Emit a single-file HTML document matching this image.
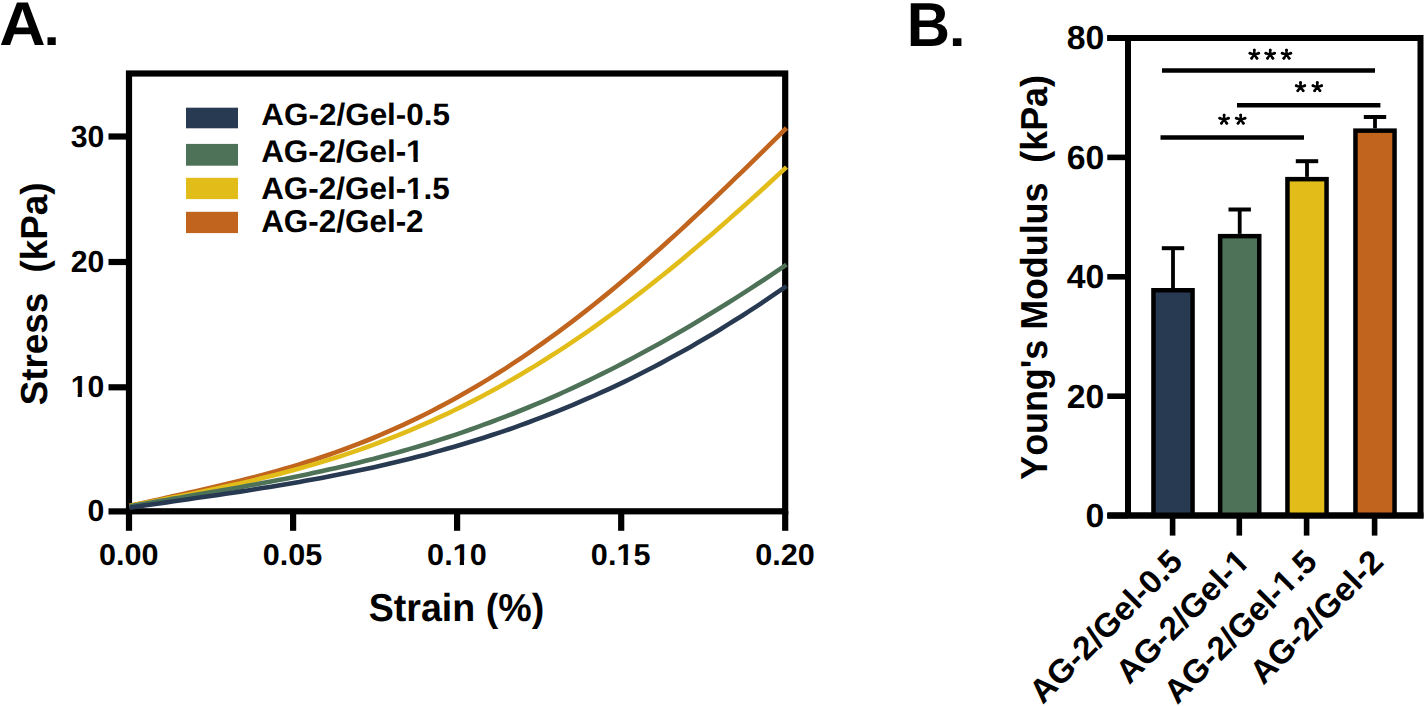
<!DOCTYPE html>
<html><head><meta charset="utf-8"><style>
html,body{margin:0;padding:0;background:#fff;width:1425px;height:706px;overflow:hidden}
svg{display:block}
text{font-family:"Liberation Sans",sans-serif;font-weight:bold;font-kerning:none;text-rendering:geometricPrecision}
</style></head><body>
<svg width="1425" height="706" viewBox="0 0 1425 706">
<text transform="translate(-0.73,45.00) scale(0.6424,0.6188)" font-size="100" xml:space="preserve">A</text>
<text transform="translate(43.60,45.00) scale(0.5857,0.5200)" font-size="100" xml:space="preserve">.</text>
<rect x="129" y="73.5" width="656.2" height="437.8" fill="none" stroke="#000" stroke-width="6.2"/>
<line x1="108.5" y1="511.4" x2="129" y2="511.4" stroke="#000" stroke-width="6.2"/>
<text transform="translate(87.60,521.45) scale(0.3020,0.3050)" font-size="100" xml:space="preserve">0</text>
<line x1="108.5" y1="387.3" x2="129" y2="387.3" stroke="#000" stroke-width="6.2"/>
<g transform="translate(70.69,397.35) scale(0.3020,0.3050)"><text font-size="100" xml:space="preserve">10</text><rect x="2.93" y="-14.16" width="20.31" height="16.60" fill="#fff"/><rect x="37.16" y="-14.16" width="18.51" height="16.60" fill="#fff"/></g>
<line x1="108.5" y1="262.0" x2="129" y2="262.0" stroke="#000" stroke-width="6.2"/>
<text transform="translate(70.69,272.05) scale(0.3020,0.3050)" font-size="100" xml:space="preserve">20</text>
<line x1="108.5" y1="136.5" x2="129" y2="136.5" stroke="#000" stroke-width="6.2"/>
<text transform="translate(70.69,146.55) scale(0.3020,0.3050)" font-size="100" xml:space="preserve">30</text>
<line x1="129.0" y1="511" x2="129.0" y2="530.8" stroke="#000" stroke-width="6.2"/>
<text transform="translate(99.02,564.51) scale(0.3060,0.3030)" font-size="100" xml:space="preserve">0.00</text>
<line x1="293.1" y1="511" x2="293.1" y2="530.8" stroke="#000" stroke-width="6.2"/>
<text transform="translate(262.76,564.51) scale(0.3060,0.3030)" font-size="100" xml:space="preserve">0.05</text>
<line x1="457.1" y1="511" x2="457.1" y2="530.8" stroke="#000" stroke-width="6.2"/>
<g transform="translate(427.12,564.51) scale(0.3060,0.3030)"><text font-size="100" xml:space="preserve">0.10</text><rect x="86.33" y="-14.16" width="20.31" height="16.60" fill="#fff"/><rect x="120.56" y="-14.16" width="18.51" height="16.60" fill="#fff"/></g>
<line x1="621.2" y1="511" x2="621.2" y2="530.8" stroke="#000" stroke-width="6.2"/>
<g transform="translate(590.86,564.51) scale(0.3060,0.3030)"><text font-size="100" xml:space="preserve">0.15</text><rect x="86.33" y="-14.16" width="20.31" height="16.60" fill="#fff"/><rect x="120.56" y="-14.16" width="18.51" height="16.60" fill="#fff"/></g>
<line x1="785.2" y1="511" x2="785.2" y2="530.8" stroke="#000" stroke-width="6.2"/>
<text transform="translate(755.22,564.51) scale(0.3060,0.3030)" font-size="100" xml:space="preserve">0.20</text>
<path d="M129.5,506.0 L136.9,504.3 L144.3,502.7 L151.6,501.0 L159.0,499.4 L166.4,497.7 L173.8,496.1 L181.2,494.5 L188.6,492.8 L195.9,491.2 L203.3,489.5 L210.7,487.8 L218.1,486.1 L225.5,484.3 L232.8,482.5 L240.2,480.7 L247.6,478.8 L255.0,476.9 L262.4,475.0 L269.8,472.9 L277.1,470.9 L284.5,468.8 L291.9,466.6 L299.3,464.4 L306.7,462.0 L314.1,459.7 L321.4,457.2 L328.8,454.7 L336.2,452.1 L343.6,449.5 L351.0,446.7 L358.3,443.9 L365.7,441.0 L373.1,438.0 L380.5,434.9 L387.9,431.7 L395.3,428.4 L402.6,425.1 L410.0,421.6 L417.4,418.1 L424.8,414.5 L432.2,410.7 L439.5,406.9 L446.9,403.0 L454.3,399.0 L461.7,394.8 L469.1,390.6 L476.5,386.3 L483.8,381.9 L491.2,377.4 L498.6,372.8 L506.0,368.1 L513.4,363.2 L520.7,358.3 L528.1,353.3 L535.5,348.2 L542.9,343.0 L550.3,337.7 L557.7,332.3 L565.0,326.9 L572.4,321.3 L579.8,315.6 L587.2,309.9 L594.6,304.0 L601.9,298.1 L609.3,292.1 L616.7,286.0 L624.1,279.8 L631.5,273.5 L638.9,267.2 L646.2,260.7 L653.6,254.2 L661.0,247.7 L668.4,241.0 L675.8,234.4 L683.2,227.6 L690.5,220.8 L697.9,213.9 L705.3,207.0 L712.7,200.0 L720.1,192.9 L727.4,185.9 L734.8,178.7 L742.2,171.6 L749.6,164.4 L757.0,157.2 L764.4,149.9 L771.7,142.6 L779.1,135.3 L786.5,128.0" fill="none" stroke="#c0641e" stroke-width="4.6" stroke-linejoin="round" stroke-linecap="butt"/>
<path d="M129.5,506.0 L136.9,504.6 L144.3,503.1 L151.6,501.7 L159.0,500.2 L166.4,498.8 L173.8,497.3 L181.2,495.9 L188.6,494.4 L195.9,492.9 L203.3,491.4 L210.7,489.8 L218.1,488.2 L225.5,486.6 L232.8,485.0 L240.2,483.4 L247.6,481.7 L255.0,479.9 L262.4,478.1 L269.8,476.3 L277.1,474.4 L284.5,472.5 L291.9,470.5 L299.3,468.5 L306.7,466.4 L314.1,464.3 L321.4,462.1 L328.8,459.8 L336.2,457.5 L343.6,455.1 L351.0,452.6 L358.3,450.1 L365.7,447.5 L373.1,444.8 L380.5,442.0 L387.9,439.2 L395.3,436.3 L402.6,433.3 L410.0,430.3 L417.4,427.1 L424.8,423.9 L432.2,420.6 L439.5,417.2 L446.9,413.8 L454.3,410.2 L461.7,406.6 L469.1,402.9 L476.5,399.1 L483.8,395.2 L491.2,391.2 L498.6,387.2 L506.0,383.0 L513.4,378.8 L520.7,374.5 L528.1,370.1 L535.5,365.6 L542.9,361.0 L550.3,356.3 L557.7,351.6 L565.0,346.8 L572.4,341.9 L579.8,336.9 L587.2,331.8 L594.6,326.6 L601.9,321.3 L609.3,316.0 L616.7,310.6 L624.1,305.1 L631.5,299.5 L638.9,293.9 L646.2,288.2 L653.6,282.4 L661.0,276.5 L668.4,270.6 L675.8,264.6 L683.2,258.5 L690.5,252.3 L697.9,246.1 L705.3,239.8 L712.7,233.5 L720.1,227.1 L727.4,220.6 L734.8,214.1 L742.2,207.5 L749.6,200.9 L757.0,194.2 L764.4,187.5 L771.7,180.8 L779.1,173.9 L786.5,167.1" fill="none" stroke="#e2bd1a" stroke-width="4.6" stroke-linejoin="round" stroke-linecap="butt"/>
<path d="M129.5,506.3 L136.9,505.0 L144.3,503.7 L151.6,502.4 L159.0,501.1 L166.4,499.9 L173.8,498.6 L181.2,497.4 L188.6,496.1 L195.9,494.8 L203.3,493.6 L210.7,492.3 L218.1,491.0 L225.5,489.8 L232.8,488.5 L240.2,487.2 L247.6,485.8 L255.0,484.5 L262.4,483.1 L269.8,481.7 L277.1,480.3 L284.5,478.9 L291.9,477.4 L299.3,475.9 L306.7,474.4 L314.1,472.8 L321.4,471.2 L328.8,469.6 L336.2,467.9 L343.6,466.2 L351.0,464.5 L358.3,462.7 L365.7,460.8 L373.1,459.0 L380.5,457.0 L387.9,455.1 L395.3,453.1 L402.6,451.0 L410.0,448.9 L417.4,446.7 L424.8,444.5 L432.2,442.2 L439.5,439.9 L446.9,437.5 L454.3,435.1 L461.7,432.6 L469.1,430.0 L476.5,427.4 L483.8,424.7 L491.2,422.0 L498.6,419.2 L506.0,416.4 L513.4,413.5 L520.7,410.5 L528.1,407.5 L535.5,404.4 L542.9,401.3 L550.3,398.1 L557.7,394.8 L565.0,391.5 L572.4,388.1 L579.8,384.6 L587.2,381.1 L594.6,377.5 L601.9,373.9 L609.3,370.2 L616.7,366.5 L624.1,362.6 L631.5,358.8 L638.9,354.8 L646.2,350.8 L653.6,346.8 L661.0,342.7 L668.4,338.5 L675.8,334.3 L683.2,330.0 L690.5,325.7 L697.9,321.3 L705.3,316.8 L712.7,312.3 L720.1,307.8 L727.4,303.2 L734.8,298.6 L742.2,293.9 L749.6,289.1 L757.0,284.3 L764.4,279.5 L771.7,274.6 L779.1,269.7 L786.5,264.7" fill="none" stroke="#4e7257" stroke-width="4.6" stroke-linejoin="round" stroke-linecap="butt"/>
<path d="M129.5,507.7 L136.9,506.6 L144.3,505.5 L151.6,504.5 L159.0,503.4 L166.4,502.4 L173.8,501.3 L181.2,500.2 L188.6,499.2 L195.9,498.1 L203.3,497.0 L210.7,496.0 L218.1,494.9 L225.5,493.8 L232.8,492.7 L240.2,491.6 L247.6,490.4 L255.0,489.3 L262.4,488.1 L269.8,486.9 L277.1,485.7 L284.5,484.5 L291.9,483.2 L299.3,482.0 L306.7,480.6 L314.1,479.3 L321.4,477.9 L328.8,476.5 L336.2,475.1 L343.6,473.6 L351.0,472.1 L358.3,470.6 L365.7,469.0 L373.1,467.4 L380.5,465.8 L387.9,464.1 L395.3,462.3 L402.6,460.5 L410.0,458.7 L417.4,456.8 L424.8,454.9 L432.2,452.9 L439.5,450.9 L446.9,448.8 L454.3,446.7 L461.7,444.5 L469.1,442.3 L476.5,440.0 L483.8,437.7 L491.2,435.3 L498.6,432.9 L506.0,430.4 L513.4,427.8 L520.7,425.2 L528.1,422.5 L535.5,419.7 L542.9,416.9 L550.3,414.0 L557.7,411.1 L565.0,408.1 L572.4,405.1 L579.8,401.9 L587.2,398.7 L594.6,395.5 L601.9,392.2 L609.3,388.8 L616.7,385.3 L624.1,381.8 L631.5,378.2 L638.9,374.5 L646.2,370.8 L653.6,367.0 L661.0,363.1 L668.4,359.1 L675.8,355.1 L683.2,351.0 L690.5,346.9 L697.9,342.6 L705.3,338.3 L712.7,333.9 L720.1,329.5 L727.4,324.9 L734.8,320.3 L742.2,315.7 L749.6,310.9 L757.0,306.1 L764.4,301.2 L771.7,296.2 L779.1,291.2 L786.5,286.1" fill="none" stroke="#283a52" stroke-width="4.6" stroke-linejoin="round" stroke-linecap="butt"/>
<text transform="translate(47.22,405.20) rotate(-90) scale(0.3674,0.3760)" font-size="100" xml:space="preserve">Stress  (kPa)</text>
<text transform="translate(368.67,621.11) scale(0.3763,0.3891)" font-size="100" xml:space="preserve">Strain (%)</text>
<rect x="186" y="107.7" width="52" height="20.6" fill="#283a52"/>
<text transform="translate(261.36,124.60) scale(0.3143,0.3096)" font-size="100" xml:space="preserve">AG-2/Gel-0.5</text>
<rect x="186" y="143.9" width="52" height="21.8" fill="#4e7257"/>
<g transform="translate(261.16,162.00) scale(0.3143,0.3125)"><text font-size="100" xml:space="preserve">AG-2/Gel-1</text><rect x="464.11" y="-14.16" width="20.31" height="16.60" fill="#fff"/><rect x="498.34" y="-14.16" width="18.51" height="16.60" fill="#fff"/></g>
<rect x="186" y="177.8" width="52" height="21.3" fill="#e2bd1a"/>
<g transform="translate(261.16,198.60) scale(0.3143,0.3110)"><text font-size="100" xml:space="preserve">AG-2/Gel-1.5</text><rect x="464.11" y="-14.16" width="20.31" height="16.60" fill="#fff"/><rect x="498.34" y="-14.16" width="18.51" height="16.60" fill="#fff"/></g>
<rect x="186" y="211.8" width="52" height="21.3" fill="#c0641e"/>
<text transform="translate(261.16,232.10) scale(0.3143,0.3140)" font-size="100" xml:space="preserve">AG-2/Gel-2</text>
<text transform="translate(906.70,45.60) scale(0.6000,0.6217)" font-size="100" xml:space="preserve">B</text>
<text transform="translate(948.75,45.60) scale(0.6071,0.5200)" font-size="100" xml:space="preserve">.</text>
<path d="M1107.3,38 H1420.5 V515.6 H1108 M1128,38 V515.6" fill="none" stroke="#000" stroke-width="6"/>
<line x1="1107.3" y1="515.6" x2="1128" y2="515.6" stroke="#000" stroke-width="5.6"/>
<text transform="translate(1085.56,526.98) scale(0.3380,0.3340)" font-size="100" xml:space="preserve">0</text>
<line x1="1107.3" y1="396.2" x2="1128" y2="396.2" stroke="#000" stroke-width="5.6"/>
<text transform="translate(1066.63,407.58) scale(0.3380,0.3340)" font-size="100" xml:space="preserve">20</text>
<line x1="1107.3" y1="276.8" x2="1128" y2="276.8" stroke="#000" stroke-width="5.6"/>
<text transform="translate(1066.63,288.18) scale(0.3380,0.3340)" font-size="100" xml:space="preserve">40</text>
<line x1="1107.3" y1="157.4" x2="1128" y2="157.4" stroke="#000" stroke-width="5.6"/>
<text transform="translate(1066.63,168.78) scale(0.3380,0.3340)" font-size="100" xml:space="preserve">60</text>
<line x1="1107.3" y1="38.0" x2="1128" y2="38.0" stroke="#000" stroke-width="5.6"/>
<text transform="translate(1066.63,49.38) scale(0.3380,0.3340)" font-size="100" xml:space="preserve">80</text>
<line x1="1173.0" y1="288" x2="1173.0" y2="248.2" stroke="#000" stroke-width="3.8"/>
<line x1="1161.8" y1="248.2" x2="1184.2" y2="248.2" stroke="#000" stroke-width="4"/>
<rect x="1153.45" y="290.25" width="39.1" height="225.35000000000002" fill="#283a52" stroke="#000" stroke-width="4.5"/>
<line x1="1172.6" y1="515.6" x2="1172.6" y2="535.6" stroke="#000" stroke-width="5.6"/>
<line x1="1239.7" y1="233.9" x2="1239.7" y2="209.5" stroke="#000" stroke-width="3.8"/>
<line x1="1228.5" y1="209.5" x2="1250.9" y2="209.5" stroke="#000" stroke-width="4"/>
<rect x="1220.15" y="236.15" width="39.1" height="279.45000000000005" fill="#4e7257" stroke="#000" stroke-width="4.5"/>
<line x1="1239.3" y1="515.6" x2="1239.3" y2="535.6" stroke="#000" stroke-width="5.6"/>
<line x1="1307.0" y1="176.9" x2="1307.0" y2="161.2" stroke="#000" stroke-width="3.8"/>
<line x1="1295.8" y1="161.2" x2="1318.2" y2="161.2" stroke="#000" stroke-width="4"/>
<rect x="1287.45" y="179.15" width="39.1" height="336.45000000000005" fill="#e2bd1a" stroke="#000" stroke-width="4.5"/>
<line x1="1306.6" y1="515.6" x2="1306.6" y2="535.6" stroke="#000" stroke-width="5.6"/>
<line x1="1375.0" y1="128.4" x2="1375.0" y2="117" stroke="#000" stroke-width="3.8"/>
<line x1="1363.8" y1="117" x2="1386.2" y2="117" stroke="#000" stroke-width="4"/>
<rect x="1355.45" y="130.65" width="39.1" height="384.95000000000005" fill="#c0641e" stroke="#000" stroke-width="4.5"/>
<line x1="1374.6" y1="515.6" x2="1374.6" y2="535.6" stroke="#000" stroke-width="5.6"/>
<line x1="1107.3" y1="515.6" x2="1423.5" y2="515.6" stroke="#000" stroke-width="6"/>
<line x1="1162" y1="70.5" x2="1375" y2="70.5" stroke="#000" stroke-width="4.5"/>
<line x1="1237" y1="105.3" x2="1380.4" y2="105.3" stroke="#000" stroke-width="4.5"/>
<line x1="1160.5" y1="137.5" x2="1304" y2="137.5" stroke="#000" stroke-width="4.5"/>
<path d="M1254.30,54.60L1254.30,50.05M1254.30,54.60L1258.63,53.19M1254.30,54.60L1256.97,58.28M1254.30,54.60L1251.63,58.28M1254.30,54.60L1249.97,53.19" stroke="#000" stroke-width="2.5" stroke-linecap="round" fill="none"/><circle cx="1254.30" cy="50.05" r="1.4"/><circle cx="1258.63" cy="53.19" r="1.4"/><circle cx="1256.97" cy="58.28" r="1.4"/><circle cx="1251.63" cy="58.28" r="1.4"/><circle cx="1249.97" cy="53.19" r="1.4"/>
<path d="M1270.20,54.60L1270.20,50.05M1270.20,54.60L1274.53,53.19M1270.20,54.60L1272.87,58.28M1270.20,54.60L1267.53,58.28M1270.20,54.60L1265.87,53.19" stroke="#000" stroke-width="2.5" stroke-linecap="round" fill="none"/><circle cx="1270.20" cy="50.05" r="1.4"/><circle cx="1274.53" cy="53.19" r="1.4"/><circle cx="1272.87" cy="58.28" r="1.4"/><circle cx="1267.53" cy="58.28" r="1.4"/><circle cx="1265.87" cy="53.19" r="1.4"/>
<path d="M1286.50,54.60L1286.50,50.05M1286.50,54.60L1290.83,53.19M1286.50,54.60L1289.17,58.28M1286.50,54.60L1283.83,58.28M1286.50,54.60L1282.17,53.19" stroke="#000" stroke-width="2.5" stroke-linecap="round" fill="none"/><circle cx="1286.50" cy="50.05" r="1.4"/><circle cx="1290.83" cy="53.19" r="1.4"/><circle cx="1289.17" cy="58.28" r="1.4"/><circle cx="1283.83" cy="58.28" r="1.4"/><circle cx="1282.17" cy="53.19" r="1.4"/>
<path d="M1300.50,87.10L1300.50,82.55M1300.50,87.10L1304.83,85.69M1300.50,87.10L1303.17,90.78M1300.50,87.10L1297.83,90.78M1300.50,87.10L1296.17,85.69" stroke="#000" stroke-width="2.5" stroke-linecap="round" fill="none"/><circle cx="1300.50" cy="82.55" r="1.4"/><circle cx="1304.83" cy="85.69" r="1.4"/><circle cx="1303.17" cy="90.78" r="1.4"/><circle cx="1297.83" cy="90.78" r="1.4"/><circle cx="1296.17" cy="85.69" r="1.4"/>
<path d="M1317.30,87.10L1317.30,82.55M1317.30,87.10L1321.63,85.69M1317.30,87.10L1319.97,90.78M1317.30,87.10L1314.63,90.78M1317.30,87.10L1312.97,85.69" stroke="#000" stroke-width="2.5" stroke-linecap="round" fill="none"/><circle cx="1317.30" cy="82.55" r="1.4"/><circle cx="1321.63" cy="85.69" r="1.4"/><circle cx="1319.97" cy="90.78" r="1.4"/><circle cx="1314.63" cy="90.78" r="1.4"/><circle cx="1312.97" cy="85.69" r="1.4"/>
<path d="M1224.10,119.60L1224.10,115.05M1224.10,119.60L1228.43,118.19M1224.10,119.60L1226.77,123.28M1224.10,119.60L1221.43,123.28M1224.10,119.60L1219.77,118.19" stroke="#000" stroke-width="2.5" stroke-linecap="round" fill="none"/><circle cx="1224.10" cy="115.05" r="1.4"/><circle cx="1228.43" cy="118.19" r="1.4"/><circle cx="1226.77" cy="123.28" r="1.4"/><circle cx="1221.43" cy="123.28" r="1.4"/><circle cx="1219.77" cy="118.19" r="1.4"/>
<path d="M1240.70,119.60L1240.70,115.05M1240.70,119.60L1245.03,118.19M1240.70,119.60L1243.37,123.28M1240.70,119.60L1238.03,123.28M1240.70,119.60L1236.37,118.19" stroke="#000" stroke-width="2.5" stroke-linecap="round" fill="none"/><circle cx="1240.70" cy="115.05" r="1.4"/><circle cx="1245.03" cy="118.19" r="1.4"/><circle cx="1243.37" cy="123.28" r="1.4"/><circle cx="1238.03" cy="123.28" r="1.4"/><circle cx="1236.37" cy="118.19" r="1.4"/>
<text transform="translate(1046.52,479.72) rotate(-90) scale(0.3583,0.3760)" font-size="100" xml:space="preserve">Young&#39;s Modulus  (kPa)</text>
<g transform="translate(1184.5,563.3) rotate(-45) scale(0.334,0.327)"><text font-size="100" text-anchor="end">AG-2/Gel-0.5</text></g>
<g transform="translate(1251.3,563.2) rotate(-45) scale(0.334,0.327)"><text font-size="100" text-anchor="end">AG-2/Gel-1</text><rect x="-52.69" y="-14.16" width="20.31" height="16.60" fill="#fff"/><rect x="-18.46" y="-14.16" width="18.51" height="16.60" fill="#fff"/></g>
<g transform="translate(1318.9,563.5) rotate(-45) scale(0.334,0.327)"><text font-size="100" text-anchor="end">AG-2/Gel-1.5</text><rect x="-136.08" y="-14.16" width="20.31" height="16.60" fill="#fff"/><rect x="-101.86" y="-14.16" width="18.51" height="16.60" fill="#fff"/></g>
<g transform="translate(1385.2,563.7) rotate(-45) scale(0.334,0.327)"><text font-size="100" text-anchor="end">AG-2/Gel-2</text></g>
</svg>
</body></html>
